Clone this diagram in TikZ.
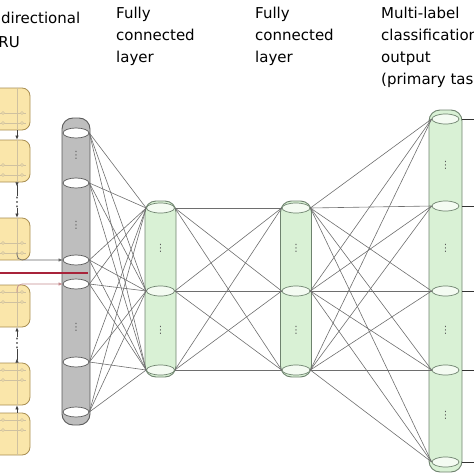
\documentclass[tikz,border=0pt]{standalone}
\usepackage{fontspec}
\setmainfont{DejaVu Sans}
\usepackage{tikz}
\usetikzlibrary{shapes.geometric,arrows.meta,positioning}

\definecolor{cellfill}{HTML}{FAE6AA}
\definecolor{cellline}{HTML}{A88E52}
\definecolor{grayfill}{HTML}{BEBEBE}
\definecolor{grayline}{HTML}{5A5A5A}
\definecolor{greenfill}{HTML}{D9F1D5}
\definecolor{greenline}{HTML}{6E826E}
\definecolor{linkgray}{HTML}{6E6E6E}
\definecolor{feedred}{HTML}{A8233A}
\definecolor{feedpink}{HTML}{C48A8E}

\begin{document}
\begin{tikzpicture}[
    x=1pt, y=-1pt,
    title/.style={anchor=north west, align=left, inner sep=0pt, font=\fontsize{15}{22}\selectfont},
    cell/.style={rectangle, rounded corners=8pt, draw=cellline, fill=cellfill, line width=0.8pt, minimum width=50pt, minimum height=42pt},
    cellwire/.style={draw=cellline!55, line width=0.4pt},
    graycolumn/.style={rectangle, rounded corners=11pt, draw=grayline, fill=grayfill, line width=0.9pt, minimum width=28pt},
    greencolumn/.style={rectangle, rounded corners=11pt, draw=greenline, fill=greenfill, line width=0.9pt},
    unit/.style={ellipse, draw=grayline, fill=white, line width=0.7pt, minimum width=26pt, minimum height=10pt, inner sep=0pt},
    gunit/.style={unit, draw=greenline, fill=white!70!greenfill},
    vdot/.style={inner sep=0pt, text=black!65, font=\fontsize{10}{10}\selectfont},
    bigdot/.style={inner sep=1pt, text=black!85, font=\fontsize{13}{13}\selectfont},
    link/.style={draw=linkgray, line width=0.6pt},
    arr/.style={-{Latex[length=4pt,width=3.5pt]}, draw=black!75, line width=0.6pt},
    arrstart/.style={{Latex[length=4pt,width=3.5pt,reversed]}-, draw=black!75, line width=0.6pt}
]
\useasboundingbox (0,0) rectangle (474,474);

% titles
\node[title, font=\fontsize{15}{24}\selectfont] (tgru) at (-13.5,12) {Bidirectional\\GRU};
\node[title] (tfc1) at (116,7) {Fully\\connected\\layer};
\node[title] (tfc2) at (255,7) {Fully\\connected\\layer};
\node[title] (tout) at (381,7) {Multi-label\\classification\\output\\(primary task)};

% GRU cells
\foreach \y [count=\i] in {109,161,239,306,384,434}
  \node[cell] (y\i) at (5,\y) {};
\foreach \i in {1,2,3} {
  \draw[cellwire] ([xshift=12pt]y\i.north) -- ([xshift=12pt]y\i.south);
  \foreach \s in {-4,-14} {
    \draw[cellwire] ([yshift=\s pt]y\i.west) -- ([yshift=\s pt,xshift=-4pt]y\i.east);
    \draw[cellwire, fill=cellfill] ([yshift=\s pt,xshift=-2pt]y\i.center) circle (1.5pt);
    \draw[cellwire, fill=cellfill] ([yshift=\s pt,xshift=17pt]y\i.center) circle (1.5pt);
  }
}
\foreach \i in {4,5,6} {
  \draw[cellwire] ([xshift=12pt]y\i.north) -- ([xshift=12pt]y\i.south);
  \foreach \s in {4,14} {
    \draw[cellwire] ([yshift=\s pt]y\i.west) -- ([yshift=\s pt,xshift=-4pt]y\i.east);
    \draw[cellwire, fill=cellfill] ([yshift=\s pt,xshift=-2pt]y\i.center) circle (1.5pt);
    \draw[cellwire, fill=cellfill] ([yshift=\s pt,xshift=17pt]y\i.center) circle (1.5pt);
  }
}
\node[bigdot] (d1) at (17,202) {⋮};
\node[bigdot] (d2) at (17,343) {⋮};

\draw[arr] ([xshift=12pt]y1.south) -- ([xshift=12pt]y2.north);
\draw[arrstart] ([xshift=12pt]y2.south) -- (d1.north);
\draw[arr] (d1.south) -- ([xshift=12pt]y3.north);
\draw[arr] (d2.north) -- ([xshift=12pt]y4.south);
\draw[arrstart] ([xshift=12pt]y5.north) -- (d2.south);
\draw[arr] ([xshift=12pt]y6.north) -- ([xshift=12pt]y5.south);

% columns
\node[graycolumn, minimum height=307pt] (gray) at (76,271.5) {};
\node[greencolumn, minimum width=31pt, minimum height=176pt] (fc1) at (160.5,289) {};
\node[greencolumn, minimum width=31pt, minimum height=176pt] (fc2) at (296,289) {};
\node[greencolumn, minimum width=33pt, minimum height=362pt] (out) at (445.5,291) {};

\foreach \y [count=\i] in {133,183,260,284,362,412}
  \node[unit] (g\i) at (76,\y) {};
\foreach \y [count=\i] in {208,291,370} {
  \node[gunit, minimum width=28pt] (a\i) at (160.5,\y) {};
  \node[gunit, minimum width=28pt] (b\i) at (296,\y) {};
}
\foreach \y [count=\i] in {119,206,291,370,462}
  \node[gunit, minimum width=27pt] (o\i) at (445.5,\y) {};

\foreach \y in {155,225,327}
  \node[vdot] at (76,\y) {⋮};
\foreach \y in {248,330} {
  \node[vdot] at (160.5,\y) {⋮};
  \node[vdot] at (296,\y) {⋮};
}
\foreach \y in {165,248,330,415}
  \node[vdot] at (445.5,\y) {⋮};

% inputs from the GRU
\coordinate (redin) at (-5,273);
\coordinate (redend) at (88,273);
\draw[draw=feedred, line width=2.6pt] (redin) -- (redend);
\draw[arr, draw=black!60, rounded corners=5pt] ([xshift=12pt,yshift=8pt]y3.south) |- (g3.west);
\draw[arr, draw=feedpink, rounded corners=5pt] ([xshift=12pt,yshift=-8pt]y4.north) |- (g4.west);

% dense connections
\foreach \i in {1,...,6}
  \foreach \j in {1,2,3}
    \draw[link] (g\i.east) -- (a\j.west);
\foreach \i in {1,2,3}
  \foreach \j in {1,2,3}
    \draw[link] (a\i.east) -- (b\j.west);
\foreach \i in {1,2,3}
  \foreach \j in {1,...,5}
    \draw[link] (b\i.east) -- (o\j.west);

% outputs
\coordinate (edge) at (480,0);
\foreach \i in {1,...,5}
  \draw[draw=black!80, line width=0.9pt] (o\i.east -| out.east) -- (o\i.east -| edge);
\end{tikzpicture}
\end{document}
